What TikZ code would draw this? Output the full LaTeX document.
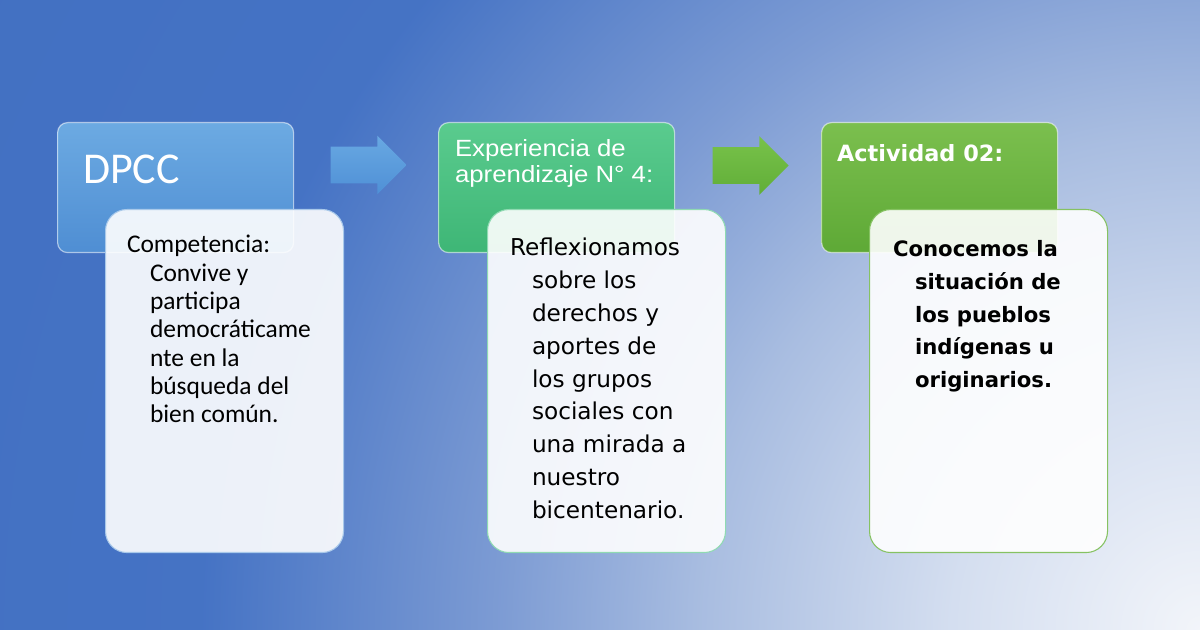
\documentclass[tikz,border=0pt]{standalone}
\usepackage{fontspec}
\usetikzlibrary{shapes.arrows}
\newfontfamily\calibf{Carlito}
\newfontfamily\arialf[FakeStretch=1.1]{Liberation Sans}
\newfontfamily\comicf{DejaVu Sans}
\definecolor{bgblue}{HTML}{4472C4}
\definecolor{b1top}{HTML}{6CAAE2}
\definecolor{b1bot}{HTML}{4F8ED3}
\definecolor{b2top}{HTML}{5ACB8E}
\definecolor{b2bot}{HTML}{3EB676}
\definecolor{b3top}{HTML}{7BBF4E}
\definecolor{b3bot}{HTML}{5EA936}
\definecolor{w1line}{HTML}{A9C9EA}
\definecolor{w2line}{HTML}{8FDAB2}
\definecolor{w3line}{HTML}{86C262}
\definecolor{a1top}{HTML}{68A8E2}
\definecolor{a1bot}{HTML}{4F90D6}
\definecolor{a2top}{HTML}{78C24A}
\definecolor{a2bot}{HTML}{61AE38}
\pgfdeclareradialshading{bgshade}{\pgfpoint{0bp}{0bp}}{%
rgb(0bp)=(0.95,0.96,0.98);
rgb(4.46bp)=(0.83,0.87,0.94);
rgb(8.93bp)=(0.66,0.74,0.88);
rgb(12.5bp)=(0.49,0.61,0.83);
rgb(17.86bp)=(0.27,0.45,0.77);
rgb(25bp)=(0.26,0.44,0.76);
rgb(50bp)=(0.26,0.44,0.76)}
\newcommand\stacklines[2]{\vtop{\baselineskip=#1\relax #2}}
\begin{document}
\begin{tikzpicture}[x=0.75pt,y=-0.75pt,
  topbox/.style={rectangle, rounded corners=7.5pt, anchor=north west, inner sep=0pt,
    minimum width=177pt, minimum height=97.5pt, draw=white, draw opacity=0.55, line width=0.9pt},
  whitebox/.style={rectangle, rounded corners=16pt, anchor=north west, inner sep=0pt,
    minimum width=178.5pt, minimum height=257.25pt, fill=white, fill opacity=0.9, line width=0.8pt},
  blockarrow/.style={single arrow, inner xsep=0pt, inner ysep=13.5pt, minimum height=57pt,
    single arrow head extend=8.25pt, single arrow head indent=0pt},
  txt/.style={anchor=base west, inner sep=0pt, outer sep=0pt, text=black}]
\useasboundingbox (0,0) rectangle (1200,630);
% background
\fill[bgblue] (0,0) rectangle (1200,630);
\begin{scope}
\clip (0,0) rectangle (1200,630);
\shade[shading=bgshade] (1200,630) circle[radius=1050pt];
\end{scope}
% boxes, column 1
\node[topbox, top color=b1top, bottom color=b1bot] (top1) at (57,122) {};
\node[whitebox, draw=w1line] (white1) at (105,209) {};
% column 2
\node[topbox, top color=b2top, bottom color=b2bot] (top2) at (438,122) {};
\node[whitebox, draw=w2line] (white2) at (487,209) {};
% column 3
\node[topbox, top color=b3top, bottom color=b3bot] (top3) at (821,122) {};
\node[whitebox, draw=w3line] (white3) at (869,209) {};
% arrows
\node[blockarrow, top color=a1top, bottom color=a1bot] (arr1) at (359.5,165) {};
\node[blockarrow, top color=a2top, bottom color=a2bot] (arr2) at (741.5,165.5) {};
% texts
\node[txt, text=white, font=\calibf\fontsize{33pt}{39pt}\selectfont] (t1) at (83,184) {DPCC};
\node[txt, font=\calibf\fontsize{19.1pt}{21.2pt}\selectfont] (c1) at (127,253)
  {\stacklines{21.2pt}{\hbox{Competencia:}\hbox{\hspace{17.25pt}Convive y}\hbox{\hspace{17.25pt}participa}\hbox{\hspace{17.25pt}democráticame}\hbox{\hspace{17.25pt}nte en la}\hbox{\hspace{17.25pt}búsqueda del}\hbox{\hspace{17.25pt}bien común.}}};
\node[txt, text=white, font=\arialf\fontsize{17.6pt}{19.5pt}\selectfont] (t2) at (455,157)
  {\stacklines{19.5pt}{\hbox{Experiencia de}\hbox{aprendizaje N° 4:}}};
\node[txt, font=\comicf\fontsize{17.4pt}{24.6pt}\selectfont] (c2) at (510,256)
  {\stacklines{24.6pt}{\hbox{Reflexionamos}\hbox{\hspace{16.5pt}sobre los}\hbox{\hspace{16.5pt}derechos y}\hbox{\hspace{16.5pt}aportes de}\hbox{\hspace{16.5pt}los grupos}\hbox{\hspace{16.5pt}sociales con}\hbox{\hspace{16.5pt}una mirada a}\hbox{\hspace{16.5pt}nuestro}\hbox{\hspace{16.5pt}bicentenario.}}};
\node[txt, text=white, font=\comicf\bfseries\fontsize{16.8pt}{20pt}\selectfont] (t3) at (837,162) {Actividad 02:};
\node[txt, font=\comicf\bfseries\fontsize{15.9pt}{24.4pt}\selectfont] (c3) at (893,257)
  {\stacklines{24.4pt}{\hbox{Conocemos la}\hbox{\hspace{16.5pt}situación de}\hbox{\hspace{16.5pt}los pueblos}\hbox{\hspace{16.5pt}indígenas u}\hbox{\hspace{16.5pt}originarios.}}};
\end{tikzpicture}
\end{document}
